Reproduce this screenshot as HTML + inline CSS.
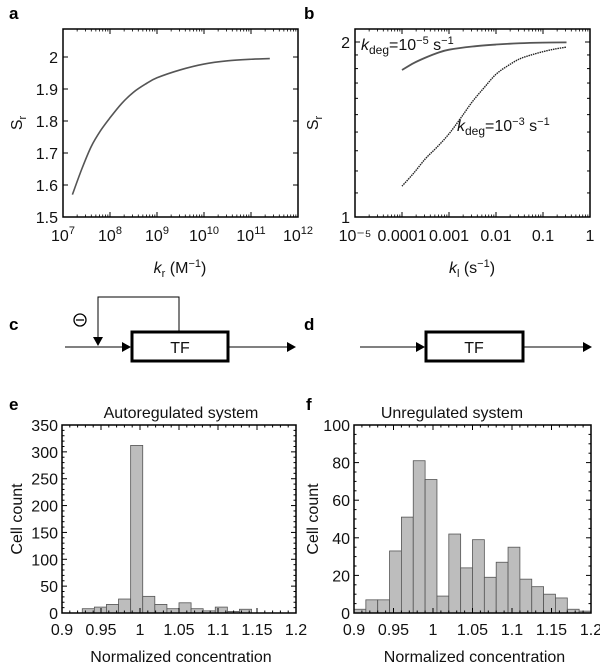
<!DOCTYPE html>
<html><head><meta charset="utf-8">
<style>
html,body{margin:0;padding:0;background:#fff;}
svg{display:block;font-family:"Liberation Sans",Arial,sans-serif;}
.t{font-size:16px;fill:#111;}
.lab{font-size:17px;font-weight:bold;fill:#000;}
</style></head>
<body>
<svg id="fig" width="600" height="665" viewBox="0 0 600 665">
<text class="lab" x="9" y="19">a</text>
<text class="lab" x="304" y="19">b</text>
<text class="lab" x="9" y="330">c</text>
<text class="lab" x="304" y="330">d</text>
<text class="lab" x="9" y="410">e</text>
<text class="lab" x="306" y="410">f</text>

<g stroke="#000" fill="none">
  <line x1="65" y1="347" x2="124" y2="347" stroke-width="1"/>
  <polygon points="131,347 122,342 122,352" fill="#000" stroke="none"/>
  <rect x="132" y="332" width="96" height="29" stroke-width="3"/>
  <polyline points="179,331 179,297 98,297 98,339" stroke-width="1"/>
  <polygon points="98,346 93,337 103,337" fill="#000" stroke="none"/>
  <line x1="229" y1="347" x2="288" y2="347" stroke-width="1"/>
  <polygon points="296,347 287,342 287,352" fill="#000" stroke="none"/>
  <circle cx="80" cy="320" r="6" stroke-width="1.3"/>
  <line x1="76" y1="320" x2="84" y2="320" stroke-width="1.3"/>
</g>
<text class="t" x="180" y="353" text-anchor="middle">TF</text>

<g stroke="#000" fill="none">
  <line x1="360" y1="347" x2="418" y2="347" stroke-width="1"/>
  <polygon points="425,347 416,342 416,352" fill="#000" stroke="none"/>
  <rect x="426" y="332" width="97" height="29" stroke-width="3"/>
  <line x1="524" y1="347" x2="584" y2="347" stroke-width="1"/>
  <polygon points="592,347 583,342 583,352" fill="#000" stroke="none"/>
</g>
<text class="t" x="474" y="353" text-anchor="middle">TF</text>

<g id="ga"></g><g id="gb"></g><g id="ge"></g><g id="gf"></g>
</svg>
<script>
// Panel a data
const aLogK = [7.2, 7.4, 7.6, 7.8, 8.0, 8.25, 8.5, 8.75, 9.0, 9.5, 10.0, 10.5, 11.0, 11.4];
const aSr   = [1.57, 1.65, 1.72, 1.77, 1.81, 1.855, 1.89, 1.915, 1.935, 1.96, 1.978, 1.988, 1.993, 1.995];
const aYTicks = [1.5, 1.6, 1.7, 1.8, 1.9, 2];
const aXTicks = [7, 8, 9, 10, 11, 12];
// Panel b data
const bLogK = [-4, -3.75, -3.5, -3.25, -3, -2.5, -2, -1.5, -1, -0.5];
const bSlow = [1.79, 1.84, 1.88, 1.915, 1.94, 1.965, 1.98, 1.99, 1.995, 1.997];
const bFastLogK = [-4, -3.75, -3.5, -3.25, -3, -2.75, -2.5, -2.25, -2, -1.75, -1.5, -1.25, -1, -0.75, -0.5];
const bFast = [1.13, 1.19, 1.26, 1.32, 1.39, 1.48, 1.58, 1.67, 1.76, 1.82, 1.87, 1.90, 1.925, 1.945, 1.96];
const bXLabels = ["10\u207B\u2075", "0.0001", "0.001", "0.01", "0.1", "1"];
const bXTicks = [-5, -4, -3, -2, -1, 0];
// Panel e data
const eStart = 0.926;
const eWidth = 0.0155;
const eCounts = [8, 11, 16, 26, 312, 31, 16, 8, 19, 8, 4, 11, 3, 7];
const eYTicks = [0, 50, 100, 150, 200, 250, 300, 350];
// Panel f data
const fStart = 0.9;
const fWidth = 0.015;
const fCounts = [2, 7, 7, 33, 51, 81, 71, 9, 42, 24, 39, 19, 27, 35, 18, 14, 10, 8, 2, 1];
const fYTicks = [0, 20, 40, 60, 80, 100];
const histXTicks = [0.9, 0.95, 1, 1.05, 1.1, 1.15, 1.2];

const NS = "http://www.w3.org/2000/svg";
function mk(parent, tag, attrs, txt) {
  const e = document.createElementNS(NS, tag);
  for (const k in attrs) e.setAttribute(k, attrs[k]);
  if (txt !== undefined) e.textContent = txt;
  parent.appendChild(e);
  return e;
}
function lin(d0, d1, r0, r1) { return v => r0 + (v - d0) / (d1 - d0) * (r1 - r0); }
function smooth(pts) {
  let d = "M" + pts[0][0] + "," + pts[0][1];
  for (let i = 0; i < pts.length - 1; i++) {
    const p0 = pts[i - 1] || pts[i], p1 = pts[i], p2 = pts[i + 1], p3 = pts[i + 2] || p2;
    const c1x = p1[0] + (p2[0] - p0[0]) / 6, c1y = p1[1] + (p2[1] - p0[1]) / 6;
    const c2x = p2[0] - (p3[0] - p1[0]) / 6, c2y = p2[1] - (p3[1] - p1[1]) / 6;
    d += "C" + c1x + "," + c1y + " " + c2x + "," + c2y + " " + p2[0] + "," + p2[1];
  }
  return d;
}
function frame(g, L, T, R, B, name) {
  const r = mk(g, "rect", {x: L, y: T, width: R - L, height: B - T, fill: "none", stroke: "#000", "stroke-width": 1.5});
  
  
}
function logMinor(g, x, L, R, T, B, lo, hi) {
  for (let d = lo; d < hi; d++) for (let m = 2; m <= 9; m++) {
    const px = x(d + Math.log10(m));
    mk(g, "line", {x1: px, x2: px, y1: B, y2: B - 2.5, stroke: "#000", "stroke-width": 0.8});
    mk(g, "line", {x1: px, x2: px, y1: T, y2: T + 2.5, stroke: "#000", "stroke-width": 0.8});
  }
  for (let d = lo; d <= hi; d++) {
    const px = x(d);
    mk(g, "line", {x1: px, x2: px, y1: B, y2: B - 5, stroke: "#000", "stroke-width": 1});
    mk(g, "line", {x1: px, x2: px, y1: T, y2: T + 5, stroke: "#000", "stroke-width": 1});
  }
}
function sup(parent, x, y, base, exp, name) {
  const t = mk(parent, "text", {x: x, y: y, "text-anchor": "middle", class: "t"});
  
  
  mk(t, "tspan", {}, base);
  mk(t, "tspan", {dy: -7, "font-size": 11}, exp);
  return t;
}

// ---- Panel a ----
(function () {
  const g = document.getElementById("ga");
  
  
  const L = 63, R = 298, T = 29, B = 217;
  const x = lin(7, 12, L, R), y = lin(1.5, 2.0875, B, T);
  logMinor(g, x, L, R, T, B, 7, 12);
  aYTicks.forEach(v => {
    mk(g, "line", {x1: L, x2: L + 5, y1: y(v), y2: y(v), stroke: "#000"});
    mk(g, "line", {x1: R, x2: R - 5, y1: y(v), y2: y(v), stroke: "#000"});
    const t = mk(g, "text", {x: L - 5, y: y(v) + 6, "text-anchor": "end", class: "t"}, String(v));
    
    
  });
  aXTicks.forEach(v => sup(g, x(v), 241, "10", String(v), 'x-tick-label'));
  frame(g, L, T, R, B, 'plot-frame-a');
  const p = mk(g, "path", {d: smooth(aLogK.map((k, i) => [x(k), y(aSr[i])])), fill: "none", stroke: "#555", "stroke-width": 1.6});
  
  
  const yt = mk(g, "text", {x: 0, y: 0, transform: "translate(22,123) rotate(-90)", "text-anchor": "middle", class: "t"});
  
  
  mk(yt, "tspan", {}, "S"); mk(yt, "tspan", {dy: 4, "font-size": 11}, "r");
  const xt = mk(g, "text", {x: 180, y: 273, "text-anchor": "middle", class: "t"});
  
  
  mk(xt, "tspan", {"font-style": "italic"}, "k"); mk(xt, "tspan", {dy: 4, "font-size": 11}, "r");
  mk(xt, "tspan", {dy: -4}, " (M"); mk(xt, "tspan", {dy: -6, "font-size": 11}, "\u22121"); mk(xt, "tspan", {dy: 6}, ")");
})();

// ---- Panel b ----
(function () {
  const g = document.getElementById("gb");
  
  
  const L = 355, R = 590, T = 29, B = 217;
  const x = lin(-5, 0, L, R);
  const y = v => B - Math.log10(v) / Math.log10(2) * 175;
  logMinor(g, x, L, R, T, B, -5, 0);
  for (let v = 1; v <= 2.001; v += 0.1) {
    const len = (Math.abs(v - 1) < 0.01 || Math.abs(v - 2) < 0.01) ? 5 : 3;
    mk(g, "line", {x1: L, x2: L + len, y1: y(v), y2: y(v), stroke: "#000"});
    mk(g, "line", {x1: R, x2: R - len, y1: y(v), y2: y(v), stroke: "#000"});
  }
  [1, 2].forEach(v => {
    const t = mk(g, "text", {x: L - 5, y: y(v) + 6, "text-anchor": "end", class: "t"}, String(v));
    
    
  });
  bXTicks.forEach((v, i) => {
    const t = mk(g, "text", {x: x(v), y: 241, "text-anchor": "middle", class: "t"}, bXLabels[i]);
    
    
  });
  frame(g, L, T, R, B, 'plot-frame-b');
  const p1 = mk(g, "path", {d: smooth(bLogK.map((k, i) => [x(k), y(bSlow[i])])), fill: "none", stroke: "#555", "stroke-width": 1.8});
  
  
  const p2 = mk(g, "path", {d: smooth(bFastLogK.map((k, i) => [x(k), y(bFast[i])])), fill: "none", stroke: "#222", "stroke-width": 1.4, "stroke-dasharray": "1.5,0.8"});
  
  
  function klab(xx, yy, e, name) {
    const t = mk(g, "text", {x: xx, y: yy, class: "t"});
    
    
    mk(t, "tspan", {"font-style": "italic"}, "k"); mk(t, "tspan", {dy: 4, "font-size": 12}, "deg");
    mk(t, "tspan", {dy: -4}, "=10"); mk(t, "tspan", {dy: -6, "font-size": 11}, e);
    mk(t, "tspan", {dy: 6}, " s"); mk(t, "tspan", {dy: -6, "font-size": 11}, "\u22121");
  }
  klab(361, 50, "\u22125", 'label-kdeg-1e-5');
  klab(457, 131, "\u22123", 'label-kdeg-1e-3');
  const yt = mk(g, "text", {x: 0, y: 0, transform: "translate(318,123) rotate(-90)", "text-anchor": "middle", class: "t"});
  
  
  mk(yt, "tspan", {}, "S"); mk(yt, "tspan", {dy: 4, "font-size": 11}, "r");
  const xt = mk(g, "text", {x: 472, y: 273, "text-anchor": "middle", class: "t"});
  
  
  mk(xt, "tspan", {"font-style": "italic"}, "k"); mk(xt, "tspan", {dy: 4, "font-size": 11}, "l");
  mk(xt, "tspan", {dy: -4}, " (s"); mk(xt, "tspan", {dy: -6, "font-size": 11}, "\u22121"); mk(xt, "tspan", {dy: 6}, ")");
})();

// ---- Histograms ----
function hist(id, L, R, start, width, counts, yTicks, yMax, title, tx, name, minorStep, ytx) {
  const g = document.getElementById(id);
  
  
  const T = 425, B = 613;
  const x = lin(0.9, 1.2, L, R), y = lin(0, yMax, B, T);
  counts.forEach((c, i) => {
    const x0 = x(start + i * width), x1 = x(start + (i + 1) * width);
    const r = mk(g, "rect", {x: x0, y: y(c), width: x1 - x0, height: B - y(c), fill: "#bdbdbd", stroke: "#555", "stroke-width": 0.8});
    
    
  });
  for (let v = 0; v <= yMax + 0.001; v += minorStep) {
    const major = yTicks.some(t => Math.abs(t - v) < 1e-6);
    const len = major ? 5 : 2.5;
    mk(g, "line", {x1: L, x2: L + len, y1: y(v), y2: y(v), stroke: "#000"});
    mk(g, "line", {x1: R, x2: R - len, y1: y(v), y2: y(v), stroke: "#000"});
  }
  for (let v = 0.9; v <= 1.2001; v += 0.01) {
    const major = histXTicks.some(t => Math.abs(t - v) < 1e-6);
    const len = major ? 5 : 2.5;
    mk(g, "line", {x1: x(v), x2: x(v), y1: B, y2: B - len, stroke: "#000"});
    mk(g, "line", {x1: x(v), x2: x(v), y1: T, y2: T + len, stroke: "#000"});
  }
  yTicks.forEach(v => {
    const t = mk(g, "text", {x: L - 4, y: y(v) + 6, "text-anchor": "end", class: "t"}, String(v));
    
    
  });
  histXTicks.forEach(v => {
    const t = mk(g, "text", {x: x(v), y: 635, "text-anchor": "middle", class: "t"}, String(v));
    
    
  });
  frame(g, L, T, R, B, 'plot-frame');
  const ti = mk(g, "text", {x: tx, y: 418, "text-anchor": "middle", class: "t"}, title);
  
  
  const xt = mk(g, "text", {x: (L + R) / 2 + 2, y: 662, "text-anchor": "middle", class: "t"}, "Normalized concentration");
  
  
  const yt = mk(g, "text", {x: 0, y: 0, transform: "translate(" + ytx + "," + ((T + B) / 2) + ") rotate(-90)", "text-anchor": "middle", class: "t"}, "Cell count");
  
  
}
hist("ge", 62, 296, eStart, eWidth, eCounts, eYTicks, 350, "Autoregulated system", 181, 'panel-e-histogram', 10, 22);
hist("gf", 354, 591, fStart, fWidth, fCounts, fYTicks, 100, "Unregulated system", 452, 'panel-f-histogram', 5, 318);
</script>
</body></html>
